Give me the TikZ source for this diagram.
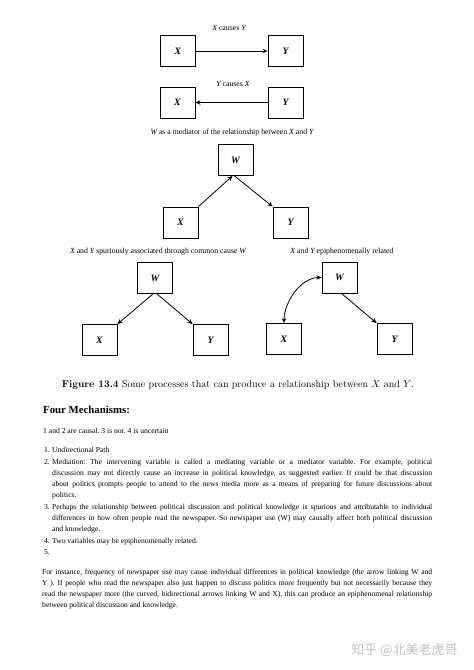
\documentclass[tikz,border=0pt]{standalone}
\usepackage{fontspec}
\newfontfamily\tnr{Liberation Serif}
\newfontfamily\cjk{Noto Sans CJK SC}
\usetikzlibrary{arrows.meta}
\frenchspacing
\tikzset{
  vbox/.style={draw, line width=0.9pt, minimum width=35pt, minimum height=31pt, inner sep=0pt, font=\tnr\fontsize{9.8}{10}\selectfont\bfseries\itshape},
  lbl/.style={inner sep=0pt, font=\tnr\fontsize{7.8}{9}\selectfont},
  arr/.style={line width=0.8pt, -{Stealth[length=5pt,width=4.5pt]}},
  barr/.style={line width=0.8pt, {Stealth[length=5pt,width=4.5pt]}-{Stealth[length=5pt,width=4.5pt]}},
  body/.style={inner sep=0pt, font=\tnr\fontsize{7.6}{11}\selectfont\frenchspacing},
  para/.style={body, align=justify, anchor=north west}
}
\begin{document}
\begin{tikzpicture}[x=1pt,y=-1pt]
\useasboundingbox (0,0) rectangle (474,670);
% --- X causes Y
\node[lbl] (l1) at (229,28) {\itshape X\upshape\ causes \itshape Y};
\node[vbox] (ax) at (178,51) {X};
\node[vbox] (ay) at (285.5,51) {Y};
\draw[arr] (ax) -- (ay);
% --- Y causes X
\node[lbl] (l2) at (233,84) {\itshape Y\upshape\ causes \itshape X};
\node[vbox] (bx) at (177.5,102.5) {X};
\node[vbox] (by) at (285.5,102.5) {Y};
\draw[arr] (by) -- (bx);
% --- mediator
\node[lbl] (l3) at (232,133) {\itshape W\upshape\ as a mediator of the relationship between \itshape X\upshape\ and \itshape Y};
\node[vbox] (mw) at (235.5,160) {W};
\node[vbox] (mx) at (180.5,222.5) {X};
\node[vbox] (my) at (290.5,222.5) {Y};
\draw[arr] (mx.north east) -- ([xshift=-3pt]mw.south);
\draw[arr] ([xshift=-1pt]mw.south) -- (my.north west);
% --- spurious
\node[lbl] (l4) at (158,252) {\itshape X\upshape\ and \itshape Y\upshape\ spuriously associated through common cause \itshape W};
\node[vbox] (sw) at (155,278) {W};
\node[vbox] (sx) at (99.5,340) {X};
\node[vbox] (sy) at (210.5,340) {Y};
\draw[arr] ([xshift=-2pt]sw.south) -- (sx.north east);
\draw[arr] ([xshift=2pt]sw.south) -- (sy.north west);
% --- epiphenomenal
\node[lbl] (l5) at (342,252) {\itshape X\upshape\ and \itshape Y\upshape\ epiphenomenally related};
\node[vbox] (ew) at (339.5,277.5) {W};
\node[vbox] (ex) at (284,339) {X};
\node[vbox] (ey) at (394.5,339) {Y};
\draw[arr] ([xshift=2pt]ew.south) -- (ey.north west);
\draw[barr] (ex.north) to[out=90,in=180,looseness=0.9] (ew.west);
% --- caption
\node[inner sep=0pt, font=\fontsize{10}{12}\selectfont] (cap) at (238,385) {\textbf{Figure 13.4} Some processes that can produce a relationship between $X$ and $Y$.};
% --- text
\node[inner sep=0pt, anchor=base west, font=\tnr\fontsize{10.8}{13}\selectfont\bfseries] (h) at (43,413) {Four Mechanisms:};
\node[body, anchor=base west] (t0) at (43,433.5) {1 and 2 are causal. 3 is not. 4 is uncertain};
\node[body, anchor=base west] (n1) at (44,452.5) {1.};
\node[body, anchor=base west] (i1) at (52,452.5) {Undirectional Path};
\node[body, anchor=base west] (n2) at (44,464.5) {2.};
\node[para, text width=380pt] (i2) at (52,459) {Mediation: The intervening variable is called a mediating variable or a mediator variable. For example, political\linebreak discussion may not directly cause an increase in political knowledge, as suggested earlier. It could be that discussion\linebreak about politics prompts people to attend to the news media more as a means of preparing for future discussions about\linebreak politics.};
\node[body, anchor=base west] (n3) at (44,509.5) {3.};
\node[para, text width=380pt] (i3) at (52,504) {Perhaps the relationship between political discussion and political knowledge is spurious and attributable to individual\linebreak differences in how often people read the newspaper. So newspaper use (W) may causally affect both political discussion\linebreak and knowledge.};
\node[body, anchor=base west] (n4) at (44,543.5) {4.};
\node[body, anchor=base west] (i4) at (52,543.5) {Two variables may be epiphenomenally related.};
\node[body, anchor=base west] (n5) at (44,554.5) {5.};
\node[para, text width=390pt] (p) at (42,569) {For instance, frequency of newspaper use may cause individual differences in political knowledge (the arrow linking W and\linebreak Y ). If people who read the newspaper also just happen to discuss politics more frequently but not necessarily because they\linebreak read the newspaper more (the curved, bidirectional arrows linking W and X), this can produce an epiphenomenal relationship\linebreak between political discussion and knowledge.};
% --- watermark
\node[inner sep=0pt, text=black!25, font=\cjk\fontsize{13}{14}\selectfont] (wm) at (404.5,650) {知乎 @北美老虎哥};
\end{tikzpicture}
\end{document}
